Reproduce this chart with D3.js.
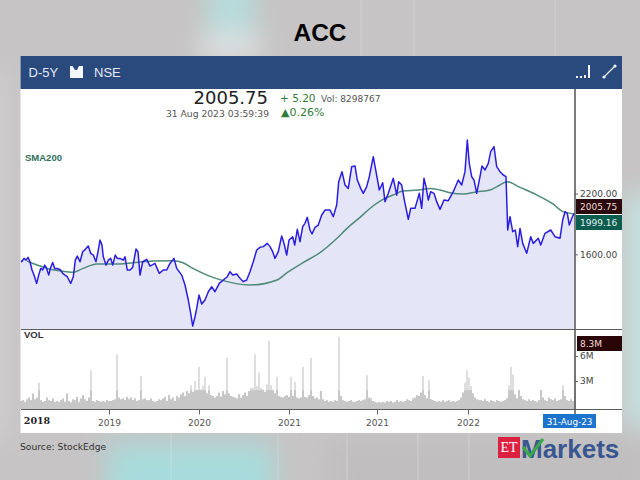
<!DOCTYPE html>
<html><head><meta charset="utf-8">
<script src="https://cdn.jsdelivr.net/npm/d3@7"></script>
<style>html,body{margin:0;padding:0;background:#c6c4c4;overflow:hidden}svg{display:block}text{font-family:"DejaVu Sans",sans-serif}</style>
</head><body><svg id="c" width="640" height="480"></svg>
<script>
const title="ACC";
const priceSessions=[0.5,1.7,4,6,8,10,12,14,16.7,18.7,20.7,22.7,24.7,26.7,28.7,30.7,32.7,34.7,36.7,40,42.7,45,47.3,50.7,53.3,55.3,57.3,60,62.7,65.3,68.3,70.7,73.3,76,78.3,80,82,83.3,86,88.3,90.7,92.7,95.3,97.3,100,103.3,105,107.3,110,112.7,116,118,120,122.7,126.7,130,135,139.3,143.3,146.7,150,154,156.7,161.7,165,168.3,170.7,172.7,175,176.7,179,181.7,185,188.3,191.7,195,199.3,
207.3,210,212.7,216.7,220,223.3,226.7,230,233.3,236.7,240,243.3,247.3,250,252.7,255,258.3,261.7,264,266.7,269,272.7,274.7,277.3,280,282.7,285,287.3,290,292,295,298.3,301.7,305,310,313.3,316.7,318.7,322,325,328.3,331.7,335,337.3,340.7,343.3,346.7,349.3,353.3,356,359.3,362.7,365,368.3,373.3,376.7,378.7,381.7,384,388.3,390.7,395,399.3,
401.7,404,406,408.3,410.7,414,416.7,420,424,428.3,433.3,438.3,441.7,445,447.3,449.3,451.7,454,456.7,460,462,465,468.3,470.7,474,476.7,480,483.3,486,487.7,490,492.7,495.3,497.7,500,502.7,506.7,510.7,513.3,518.3,520.7,525,530.7,535,540,542.7,545,547.3,549.3,552.7,554.3];
const priceValues=[1540,1527,1560,1543,1570,1527,1445,1395,1313,1395,1461,1445,1494,1461,1395,1471,1520,1461,1461,1451,1412,1395,1379,1313,1379,1543,1583,1527,1626,1649,1682,1609,1593,1527,1642,1741,1691,1576,1494,1543,1560,1494,1593,1560,1560,1543,1576,1445,1445,1471,1652,1626,1395,1527,1550,1484,1510,1412,1445,1445,1510,1560,1461,1395,1297,1149,1017,892,984,1066,1198,1109,1149,1231,1280,1231,1313,
1379,1429,1396,1406,1363,1330,1347,1429,1527,1643,1669,1676,1708,1676,1626,1560,1626,1781,1708,1593,1741,1774,1692,1847,1725,1873,1906,1965,1840,1801,1866,1889,1988,2037,2037,1972,2087,2317,2416,2284,2251,2465,2472,2333,2251,2202,2268,2366,2564,2416,2235,2307,2120,2202,2350,2185,2317,2284,2153,1945,2054,2054,2202,
2054,2350,2268,2136,2218,2202,2120,2044,2136,2130,2218,2334,2284,2416,2728,2498,2366,2334,2202,2366,2472,2432,2498,2613,2663,2465,2416,2383,2366,1840,1972,1824,1840,1675,1856,1708,1610,1774,1708,1758,1692,1807,1840,1774,1758,1939,2021,2004,1889,1978,2005.75];
const smaSessions=[7,17,27,40,53,63,77,100,113,133,153,163,173,187,199,230,257,267,283,300,317,327,340,353,363,373,383,399,410,420,430,443,457,470,480,487,500,517,533,543,554];
const smaValues=[1534,1494,1461,1438,1422,1461,1504,1504,1517,1534,1537,1517,1461,1395,1353,1297,1347,1419,1518,1616,1758,1856,1965,2077,2143,2185,2225,2235,2251,2235,2208,2195,2218,2235,2284,2317,2261,2185,2097,2021,1999.16];
const volumeMillions=[.6,.7,.5,.8,1.0,.7,1.5,.8,1.0,2.8,
.7,.5,.6,1.0,.7,.6,.9,.5,.6,.5,
.7,.9,.5,1.5,.6,.4,.8,.7,1.1,.5,
.9,1.3,.8,.6,1.0,4.3,.6,.5,.7,.6,
.5,.6,.5,.7,.6,.6,.7,.8,6.2,1.0,
.8,.9,.7,1.1,.8,1.0,.7,.9,.6,.7,
3.6,.8,.9,.7,.7,.9,.6,.5,.6,.8,
.7,.9,1.1,.6,1.3,.8,1.0,.6,1.2,1.0,
1.4,1.6,1.2,1.8,1.5,2.5,1.7,3.0,1.9,4.7,
2.0,2.4,3.5,1.5,2.5,1.3,1.2,1.0,1.2,1.6,
1.1,1.8,1.4,5.8,1.5,1.2,1.1,1.0,.9,1.4,
1.0,1.3,1.6,1.2,1.8,2.2,2.2,6.2,2.4,4.0,
2.2,2.0,1.7,2.6,7.8,2.5,1.9,1.5,3.5,1.2,
1.1,1.0,1.2,1.3,1.1,3.5,1.2,2.9,1.0,.9,
1.0,4.7,1.1,1.0,1.3,5.8,1.2,.9,1.0,.8,
1.8,.8,.6,.7,.5,.6,.5,.7,.6,8.3,
1.2,.7,.6,.5,.6,.7,.5,.5,.6,.7,
.6,.7,.8,3.7,1.0,.9,.6,.5,.4,.5,
.4,.5,.4,.6,.5,.6,.4,.5,.7,.5,
.6,.5,.6,.8,.7,.6,.9,1.0,1.3,1.2,
1.6,3.6,1.3,.9,3.1,.8,.7,.6,.5,.6,
.5,.7,.5,.6,.7,.5,.6,.5,.6,.7,
1.0,1.6,2.8,4.3,3.4,2.4,1.5,1.0,.8,.7,
.7,.6,.8,.6,.5,.7,.6,.5,.7,.6,
.5,.6,.7,.9,2.5,4.7,3.8,1.4,.9,1.9,
1.2,.8,.7,.6,.8,.6,.7,.6,.5,.7,
1.9,1.0,.7,.6,1.0,.8,.7,.9,.6,.7,
.8,2.5,1.2,.7,.6,.8,.6,8.3];
const xTickSessions=[89,179,269,357,448];
const xTickLabels=["2019","2020","2021","2021","2022"];
const firstYearLabel="2018";
const priceTicks=[1600,2200];
const volumeTicks=[3,6];
const lastPrice=2005.75, lastSma=1999.16, lastVolume=8.3;

const svg=d3.select("#c");
const defs=svg.append("defs");
function blur(id,s){defs.append("filter").attr("id",id).attr("filterUnits","userSpaceOnUse").attr("x",-100).attr("y",-100).attr("width",840).attr("height",680).append("feGaussianBlur").attr("stdDeviation",s);}
blur("b",13);blur("s",0.35);blur("t",0.5);
defs.append("clipPath").attr("id","pc").append("rect").attr("x",21).attr("y",90).attr("width",554).attr("height",239);

// blurred photographic backdrop
const bg=svg.append("g").attr("filter","url(#b)");
[[208,-30,46,70,"#b6dcdc"],[200,32,60,30,"#dcdede"],[626,195,40,230,"#c4e2e0"],[108,444,165,70,"#a8dcdc"],[-30,70,40,370,"#cecccc"],[330,440,320,70,"#c0bebe"]]
 .forEach(d=>bg.append("rect").attr("x",d[0]).attr("y",d[1]).attr("width",d[2]).attr("height",d[3]).attr("fill",d[4]));
const streaks=svg.append("g").attr("filter","url(#t)").attr("stroke","#e4e4e4").attr("stroke-width",1).attr("opacity",.45);
[[361,0,56],[414,0,56],[555,0,56],[171,433,480],[278,433,480],[347,433,480],[418,433,480],[469,433,480]]
 .forEach(d=>streaks.append("line").attr("x1",d[0]).attr("x2",d[0]).attr("y1",d[1]).attr("y2",d[2]));

svg.append("text").attr("x",320).attr("y",41).attr("text-anchor","middle").style("font-family","'Liberation Sans'").style("font-weight",700).style("font-size","24.5px").attr("fill","#000").text(title);

// card
svg.append("rect").attr("x",20.5).attr("y",56).attr("width",601.5).attr("height",377).attr("fill","#fff");
svg.append("rect").attr("x",20.5).attr("y",56).attr("width",601.5).attr("height",33).attr("fill","#2a4a7e");
const hdr=svg.append("g").attr("fill","#e4e9f3").style("font-size","13px");
hdr.append("text").attr("x",28.5).attr("y",77).style("font-family","'Liberation Sans'").text("D-5Y");
hdr.append("text").attr("x",94).attr("y",77).style("font-family","'Liberation Sans'").text("NSE");
svg.append("path").attr("d","M70 66L72.5 66L75 70L77 70L79 66L83 66L83 78L70 78Z").attr("fill","#f4f6fa");
const ic=svg.append("g").attr("fill","#f0f3f8");
[[576,76,2,2],[580,76,2,2],[584,75,2,3]].forEach(d=>ic.append("rect").attr("x",d[0]).attr("y",d[1]).attr("width",d[2]).attr("height",d[3]));
ic.append("rect").attr("x",588).attr("y",65).attr("width",2).attr("height",13);
svg.append("line").attr("x1",604).attr("y1",77).attr("x2",615).attr("y2",66).attr("stroke","#f0f3f8").attr("stroke-width",1.2);
svg.append("circle").attr("cx",604).attr("cy",77).attr("r",1.6).attr("fill","#f0f3f8");
svg.append("circle").attr("cx",615).attr("cy",66).attr("r",1.6).attr("fill","#f0f3f8");

// scales
const x=d3.scaleLinear().domain([0,555]).range([20,575]);
const y=d3.scaleLinear().domain([863,3222]).range([329,90]);
const v=d3.scaleLinear().domain([-0.36,9]).range([409,331]);

const plotClip=svg.append("g").attr("clip-path","url(#pc)");
const plot=plotClip.append("g").attr("filter","url(#s)");
plot.append("path").datum(priceValues).attr("fill","#e4e6f8")
 .attr("d",d3.area().x((d,i)=>x(priceSessions[i])).y0(332).y1(d=>y(d)));
plot.append("path").datum(smaValues).attr("fill","none").attr("stroke","#4f8a78").attr("stroke-width",1.5)
 .attr("d",d3.line().x((d,i)=>x(smaSessions[i])).y(d=>y(d)).curve(d3.curveMonotoneX));
plot.append("path").datum(priceValues).attr("fill","none").attr("stroke","#2a1fe0").attr("stroke-width",1.5).attr("stroke-linejoin","round")
 .attr("d",d3.line().x((d,i)=>x(priceSessions[i])).y(d=>y(d)));

// volume: solid base layer plus hairline spikes
const vx=d3.scaleLinear().domain([0,volumeMillions.length-1]).range([21,575]);
const baseCap=1.9;
const vg=svg.append("g").attr("filter","url(#s)");
vg.append("g").selectAll("rect").data(volumeMillions).join("rect")
 .attr("x",(d,i)=>vx(i)-1).attr("width",2).attr("y",d=>v(Math.min(d,baseCap))).attr("height",d=>409-v(Math.min(d,baseCap))).attr("fill","#c6c6c6");
vg.append("g").selectAll("rect").data(volumeMillions).join("rect")
 .attr("x",(d,i)=>vx(i)-.6).attr("width",1.2).attr("y",d=>v(d)).attr("height",d=>409-v(d)).attr("fill","#c9c9c9");

// frame lines
const fr=svg.append("g").attr("stroke","#5c5c5c");
fr.append("line").attr("x1",21).attr("x2",622).attr("y1",329.5).attr("y2",329.5).attr("stroke-width",1.2);
fr.append("line").attr("x1",21).attr("x2",622).attr("y1",409.5).attr("y2",409.5).attr("stroke-width",1.2);
fr.append("line").attr("x1",575).attr("x2",575).attr("y1",89).attr("y2",414).attr("stroke-width",1.6);

// axes
function styleAxis(g,c){g.select(".domain").remove();g.selectAll("text").attr("fill",c).style("font-size","9px");g.selectAll("line").attr("stroke","#666");}
svg.append("g").attr("transform","translate(0,409.5)")
 .call(d3.axisBottom(x).tickValues(xTickSessions).tickFormat((d,i)=>xTickLabels[i]).tickSize(5).tickPadding(5)).call(g=>styleAxis(g,"#555"));
svg.append("text").attr("x",x(17)).attr("y",424).attr("text-anchor","middle").style("font-family","'DejaVu Serif'").style("font-weight",700).style("font-size","9.5px").attr("fill","#222").text(firstYearLabel);
svg.append("g").attr("transform","translate(575,0)")
 .call(d3.axisRight(y).tickValues(priceTicks).tickFormat(d3.format(".2f")).tickSize(3).tickPadding(2)).call(g=>styleAxis(g,"#444"));
svg.append("g").attr("transform","translate(575,0)")
 .call(d3.axisRight(v).tickValues(volumeTicks).tickFormat(d=>d+"M").tickSize(3).tickPadding(2)).call(g=>styleAxis(g,"#444"));

// value badges
function badge(x0,y0,w,h,f,c,t,fs,tx){svg.append("rect").attr("x",x0).attr("y",y0).attr("width",w).attr("height",h).attr("fill",f);
 svg.append("text").attr("x",tx).attr("y",y0+h/2+3.4).attr("fill",c).style("font-size",fs+"px").text(t);}
badge(576,199,46,15,"#2a0a0c","#f2dcd6",lastPrice.toFixed(2),9,580);
badge(576,215,46,15,"#0d5c50","#e2f2ee",lastSma.toFixed(2),9,580);
badge(577,336,45,15,"#2a0508","#f2dcd6",lastVolume+"M",9,580);
svg.append("rect").attr("x",543).attr("y",414).attr("width",53).attr("height",14).attr("fill","#1c74cc");
svg.append("text").attr("x",569.5).attr("y",424.5).attr("text-anchor","middle").attr("fill","#fff").style("font-size","8.8px").text("31-Aug-23");

// quote block
svg.append("text").attr("x",268).attr("y",104).attr("text-anchor","end").attr("fill","#222").style("font-size","18px").text("2005.75");
svg.append("text").attr("x",269).attr("y",116.5).attr("text-anchor","end").attr("fill","#555").style("font-size","9.2px").text("31 Aug 2023 03:59:39");
svg.append("text").attr("x",280).attr("y",102).attr("fill","#2f7d3a").style("font-size","10.5px").text("+ 5.20");
svg.append("text").attr("x",321).attr("y",102).attr("fill","#555").style("font-size","9px").text("Vol: 8298767");
svg.append("text").attr("x",281).attr("y",116).attr("fill","#2f7d3a").style("font-size","11px").text("▲0.26%");
svg.append("text").attr("x",25).attr("y",161).attr("fill","#2f6f5c").style("font-size","9.5px").style("font-weight",700).style("font-family","'Liberation Sans'").text("SMA200");
svg.append("text").attr("x",24).attr("y",338).attr("fill","#333").style("font-size","9.5px").style("font-weight",700).style("font-family","'Liberation Sans'").text("VOL");

// footer
svg.append("text").attr("x",20).attr("y",450).attr("fill","#333").style("font-size","9.2px").text("Source:  StockEdge");
svg.append("rect").attr("x",498).attr("y",437).attr("width",22).attr("height",21).attr("fill","#dc2040");
svg.append("text").attr("x",509).attr("y",452).attr("text-anchor","middle").attr("fill","#fff").style("font-family","'Liberation Serif'").style("font-size","14px").text("ET");
svg.append("text").attr("x",521).attr("y",458).attr("fill","#3a5690").style("font-family","'Liberation Sans'").style("font-weight",700).style("font-size","26px").text("Markets");
svg.append("path").attr("d","M523 447L530 456L543 439").attr("fill","none").attr("stroke","#38a84a").attr("stroke-width",3.2);
</script></body></html>
